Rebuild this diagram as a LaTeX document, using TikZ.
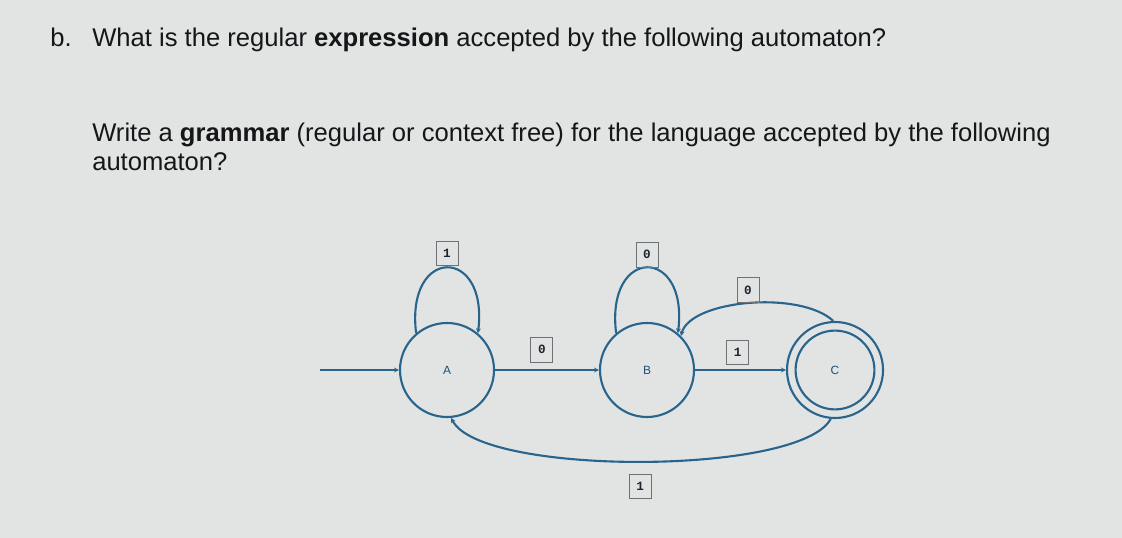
\documentclass[tikz,border=0pt]{standalone}
\usepackage{fontspec}
\setmainfont{Liberation Sans}
\newfontfamily\boxfont{Liberation Mono}
\usetikzlibrary{arrows.meta}
\definecolor{paper}{RGB}{226,228,228}
\definecolor{edgeblue}{RGB}{40,100,140}
\definecolor{boxgray}{RGB}{110,114,118}
\definecolor{inkgray}{RGB}{22,22,24}

\begin{document}
\begin{tikzpicture}[x=0.025cm, y=0.025cm,
    state/.style={circle, draw=edgeblue, line width=1.5pt, minimum size=2.35cm, inner sep=0pt,
      font=\fontsize{8.5}{9}\selectfont, text=edgeblue!80!black},
    trans/.style={draw=edgeblue, line width=1.5pt, -{Stealth[length=3.5pt,width=3.5pt]}},
    lab/.style={draw=boxgray, line width=0.6pt, minimum width=0.55cm, minimum height=0.62cm, inner sep=0pt,
      font=\boxfont\bfseries\fontsize{9}{10}\selectfont, text=inkgray!80!edgeblue},
    question/.style={anchor=base west, inner sep=0pt, font=\fontsize{18.2}{20}\selectfont, text=inkgray}]
  \fill[paper] (0,0) rectangle (1122,538); % background
  \useasboundingbox (0,0) rectangle (1122,538);

  \node[question] (item) at (50,491) {b.};
  \node[question] (q1) at (92,491) {What is the regular \textbf{expression} accepted by the following automaton?};
  \node[question] (q2) at (92,396) {Write a \textbf{grammar} (regular or context free) for the language accepted by the following};
  \node[question] (q3) at (92,367) {automaton?};

  \node[state] (A) at (447,168) {A};
  \node[state] (B) at (647,168) {B};
  \node[state, minimum size=2.4cm] (C) at (835,168) {C};
  \node[state, minimum size=1.97cm] (Cin) at (C) {}; % accepting ring
  \coordinate (start) at (320,168);

  \draw[trans] (start) -- (A); % initial
  \draw[trans] (A) -- node[lab, above=0.19cm, pos=0.45] (l1) {0} (B);
  \draw[trans] (B) -- node[lab, above=0.12cm, pos=0.47] (l2) {1} (C);
  \draw[trans] (A.130) to[out=97, in=83, distance=2.2cm] node[lab, above=1pt] (l3) {1} (A.50); % loop on A
  \draw[trans] (B.130) to[out=97, in=83, distance=2.2cm] node[lab, above=0pt] (l4) {0} (B.50); % loop on B
  \draw[trans] (C.92) .. controls (800,248) and (690,238) .. node[lab, above=0.5pt] (l5) {0} (B.45); % back to B
  \draw[trans] (C.265) .. controls (800,62) and (480,62) .. node[lab, below=0.3cm] (l6) {1} (A.275); % back to A
\end{tikzpicture}
\end{document}
